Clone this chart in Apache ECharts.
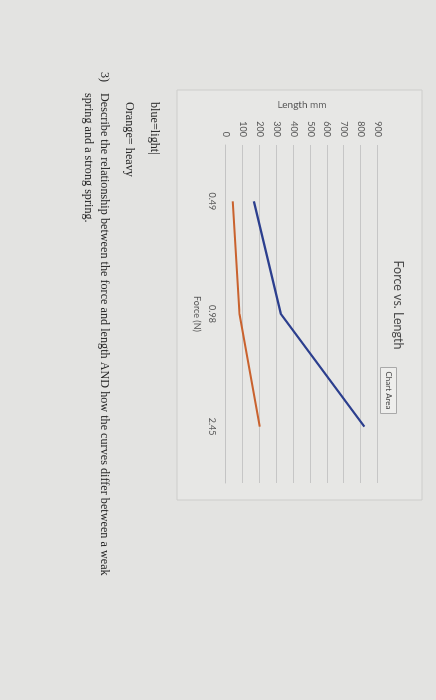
<!DOCTYPE html>
<html lang="en">
<head>
    <meta charset="UTF-8">
    <title>Force vs. Length</title>
    <style>
        html, body {
            margin: 0;
            width: 436px;
            height: 700px;
            overflow: hidden;
            background: #e3e3e1;
        }

        /* the photo is turned a quarter turn, so draw it landscape and rotate */
        #page {
            position: absolute;
            left: 0;
            top: 0;
            width: 700px;
            height: 436px;
            transform-origin: 0 0;
            transform: translateX(436px) rotate(90deg);
        }
    </style>
</head>
<body>
<div id="page"></div>
<script src="https://cdn.jsdelivr.net/npm/echarts@6/dist/echarts.min.js"></script>
<script>
    var forces = ['0.49', '0.98', '2.45'];
    var lightSpring = [165, 325, 820];
    var heavySpring = [40, 80, 200];
    var lengthTicks = {min: 0, max: 900, step: 100};

    var serif = '"Liberation Serif", "DejaVu Serif", serif';
    var sans = 'Lato, "Open Sans", sans-serif';

    var note = function (text, x, y) {
        return {
            type: 'text',
            left: x,
            top: y,
            style: {text: text, fill: '#262626', font: '12.2px ' + serif}
        };
    };

    var option = {
        animation: false,
        title: {
            text: 'Force vs. Length',
            left: 300,
            top: 26,
            textAlign: 'center',
            textStyle: {fontFamily: sans, fontSize: 12.5, fontWeight: 'normal', color: '#4a4a4a'}
        },
        grid: {left: 145, top: 58, width: 338, height: 152},
        xAxis: {
            type: 'category',
            data: forces,
            name: 'Force (N)',
            nameLocation: 'middle',
            nameGap: 25,
            nameTextStyle: {fontFamily: sans, fontSize: 9, color: '#555'},
            axisLine: {lineStyle: {color: '#c4c4c4'}},
            axisTick: {show: false},
            axisLabel: {fontFamily: sans, fontSize: 9, color: '#555', margin: 10}
        },
        yAxis: {
            type: 'value',
            min: lengthTicks.min,
            max: lengthTicks.max,
            interval: lengthTicks.step,
            name: 'Length mm',
            nameLocation: 'middle',
            nameRotate: 90,
            nameGap: 35,
            nameTextStyle: {fontFamily: sans, fontSize: 10, color: '#555'},
            axisLine: {show: false},
            axisTick: {show: false},
            axisLabel: {fontFamily: sans, fontSize: 9, color: '#555', margin: 8},
            splitLine: {lineStyle: {color: '#c6c6c6'}}
        },
        series: [
            {
                name: 'blue=light',
                type: 'line',
                data: lightSpring,
                symbol: 'none',
                lineStyle: {color: '#2c3f8e', width: 2.2}
            },
            {
                name: 'Orange= heavy',
                type: 'line',
                data: heavySpring,
                symbol: 'none',
                lineStyle: {color: '#c9622e', width: 2.2}
            }
        ],
        graphic: [
            {
                type: 'rect',
                z: -10,
                shape: {x: 90, y: 14, width: 410, height: 245},
                style: {fill: '#e7e7e5', stroke: '#cdcdcb', lineWidth: 1}
            },
            {
                type: 'group',
                left: 367,
                top: 39,
                children: [
                    {
                        type: 'rect',
                        shape: {x: 0, y: 0, width: 46, height: 16},
                        style: {fill: '#eeeeec', stroke: '#a9a9a9', lineWidth: 1}
                    },
                    {
                        type: 'text',
                        x: 23,
                        y: 8,
                        style: {text: 'Chart Area', fill: '#444', font: '8px ' + sans, align: 'center', verticalAlign: 'middle'}
                    }
                ]
            },
            note('blue=light|', 102, 276),
            note('Orange= heavy', 102, 301),
            note('3)', 72, 326),
            note('Describe the relationship between the force and length AND how the curves differ between a weak', 93, 326),
            note('spring and a strong spring.', 93, 342)
        ]
    };

    var chart = echarts.init(document.getElementById('page'));
    chart.setOption(option);
</script>
</body>
</html>
